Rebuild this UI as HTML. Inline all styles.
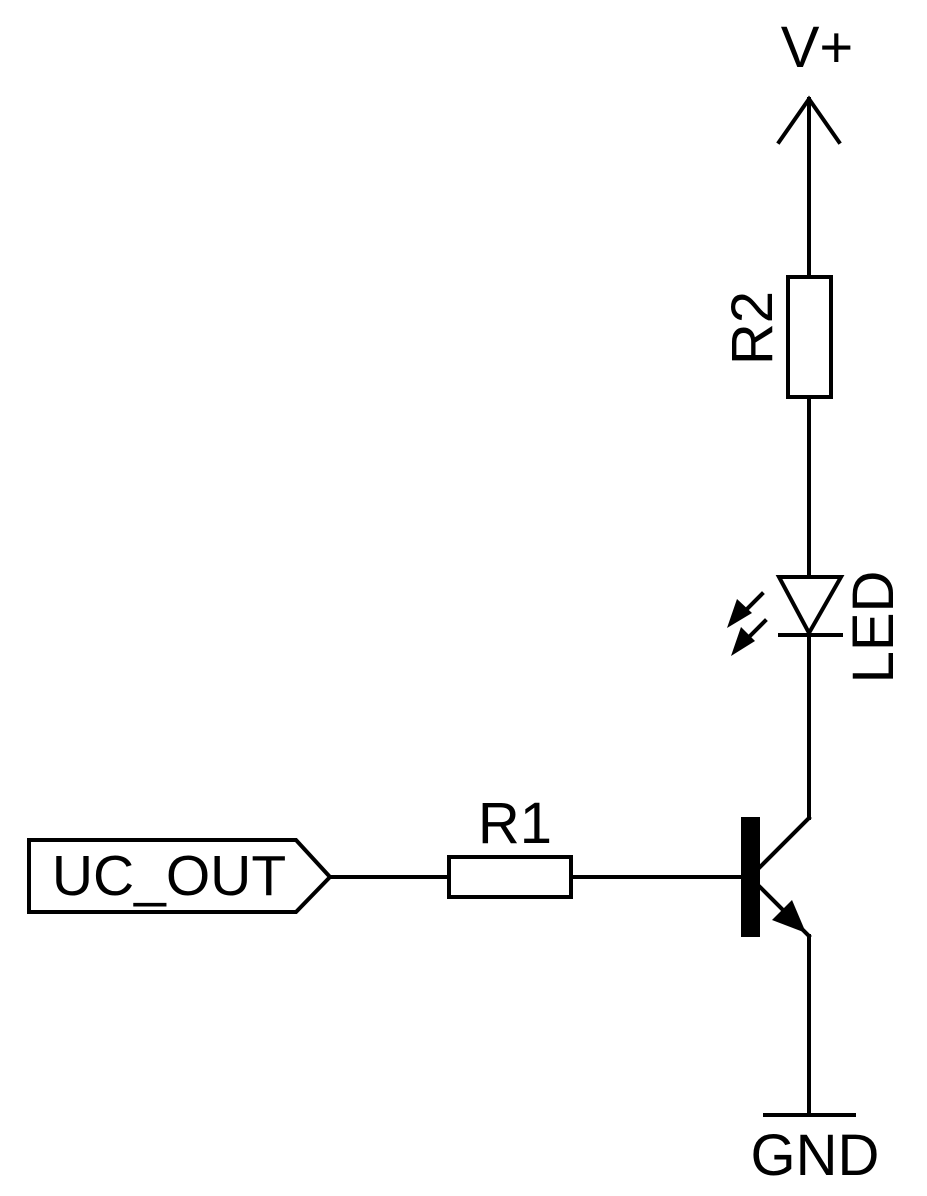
<!DOCTYPE html>
<html><head><style>html,body{margin:0;padding:0;background:#fff}</style></head>
<body>
<svg width="927" height="1196" viewBox="0 0 927 1196" xmlns="http://www.w3.org/2000/svg" style="display:block">
<g stroke="#000" stroke-width="4" fill="none" stroke-linecap="square">
<!-- V+ arrow -->
<polyline points="779,142 809,99 839,142"/>
<line x1="809" y1="99" x2="809" y2="277"/>
<!-- R2 -->
<rect x="788" y="277" width="43" height="120"/>
<line x1="809" y1="397" x2="809" y2="577"/>
<!-- LED -->
<polygon points="779,577 841,577 809,633" stroke-linejoin="miter"/>
<line x1="780" y1="635" x2="841" y2="635"/>
<line x1="809" y1="635" x2="809" y2="818"/>
<line x1="762" y1="594" x2="740" y2="616"/>
<line x1="765" y1="621" x2="743" y2="643"/>
<!-- transistor -->
<line x1="759" y1="868" x2="809" y2="818"/>
<line x1="759" y1="886" x2="809" y2="936"/>
<line x1="809" y1="936" x2="809" y2="1115"/>
<line x1="765" y1="1115" x2="854" y2="1115"/>
<!-- base wire -->
<line x1="330" y1="877" x2="448" y2="877"/>
<rect x="449" y="857" width="122" height="40"/>
<line x1="571" y1="877" x2="741" y2="877"/>
<!-- UC_OUT -->
<polygon points="29,840 296,840 330,877 296,912 29,912" stroke-linejoin="miter"/>
</g>
<g fill="#000">
<rect x="741" y="817" width="19" height="120"/>
<polygon points="727,628 752,613 737,599"/>
<polygon points="731,656 755,641 741,627"/>
<polygon points="772,920 792,900 806,933"/>
</g>
<g font-family="Liberation Sans, sans-serif" font-size="58" fill="#000">
<text x="817" y="67" text-anchor="middle">V+</text>
<text x="815" y="1175" text-anchor="middle">GND</text>
<text x="515" y="843" text-anchor="middle">R1</text>
<text x="169" y="895" text-anchor="middle" font-size="57">UC_OUT</text>
<text transform="translate(772,328) rotate(-90)" text-anchor="middle">R2</text>
<text transform="translate(893,627) rotate(-90)" text-anchor="middle">LED</text>
</g>
</svg>
</body></html>
